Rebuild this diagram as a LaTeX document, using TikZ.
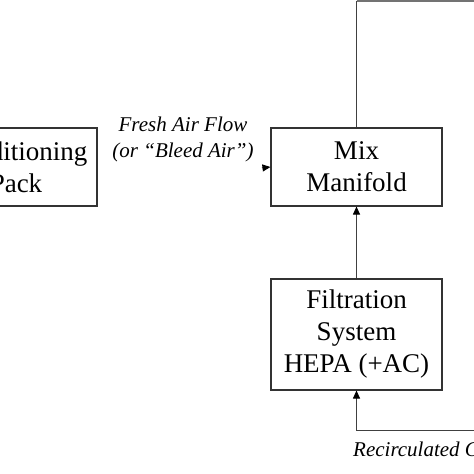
\documentclass[tikz,border=0pt]{standalone}
\usepackage{fontspec}
\setmainfont{Liberation Serif}
\usetikzlibrary{arrows.meta}
\begin{document}
\begin{tikzpicture}[x=1pt,y=-1pt,
  blk/.style={draw=black!80,line width=1.1pt,inner sep=0pt,align=center,
    font=\fontsize{27}{32}\selectfont},
  lbl/.style={inner sep=0pt,align=center,font=\fontsize{21}{26}\selectfont\itshape},
  flow/.style={draw=black!75,line width=1pt,-{Triangle[length=8pt,width=7pt,color=black]}},
  wire/.style={draw=black!75,line width=1pt}]
\useasboundingbox (0,0) rectangle (474,474);
\clip (0,0) rectangle (474,474);
\fill[white] (0,0) rectangle (474,474);
\node[blk,minimum width=162pt,minimum height=78pt] (pack) at (16,167) {Conditioning\\Pack};
\node[blk,minimum width=171pt,minimum height=78pt] (mix) at (356.5,167) {Mix\\Manifold};
\node[blk,minimum width=171pt,minimum height=111pt] (filt) at (356.5,334.5) {Filtration\\System\\HEPA (+AC)};
\node[lbl] (fresh) at (183,139) {Fresh Air Flow\\(or “Bleed Air”)};
\node[lbl,anchor=base west] (recirc) at (353,456) {Recirculated Cabin Air};
\coordinate (fa) at (262,168);
\coordinate (topL) at (356.5,1);
\coordinate (topR) at (480,1);
\coordinate (botL) at (356.5,430);
\coordinate (botR) at (480,430);
\draw[flow] (fa) -- (mix.west);
\draw[wire] (mix.north) -- (topL);
\draw[draw=black!55,line width=2pt] (topL) -- (topR);
\draw[flow] (filt.north) -- (mix.south);
\draw[flow] (botR) -- (botL) -- (filt.south);
\end{tikzpicture}
\end{document}
